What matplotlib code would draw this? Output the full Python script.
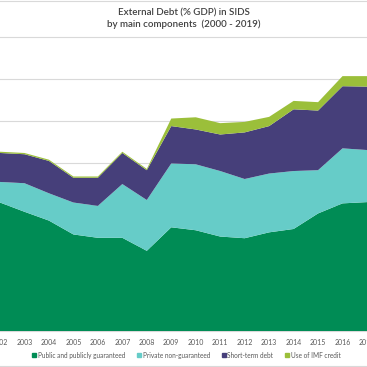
import matplotlib.pyplot as plt
from matplotlib.lines import Line2D

years = list(range(2002, 2018))

# % of GDP
public = [30.6, 28.4, 26.3, 23.0, 22.2, 22.2, 19.1, 24.7, 24.0, 22.5, 22.1, 23.5, 24.3, 28.0, 30.4, 30.7]
private = [4.9, 6.8, 6.5, 7.6, 7.6, 12.8, 12.1, 15.2, 15.7, 15.6, 14.1, 14.0, 13.8, 10.3, 13.1, 12.4]
short_term = [6.9, 6.9, 7.7, 5.9, 6.7, 7.4, 7.1, 8.9, 8.3, 8.7, 11.1, 11.3, 14.7, 14.2, 14.8, 15.1]
imf = [0.3, 0.3, 0.3, 0.3, 0.3, 0.3, 0.3, 1.8, 2.9, 2.7, 2.5, 2.2, 2.0, 2.0, 2.4, 2.5]

labels = ['Public and publicly guaranteed', 'Private non-guaranteed', 'Short-term debt', 'Use of IMF credit']
colors = ['#008c55', '#66ccc8', '#463f7a', '#9bbf3a']

plt.rcParams['font.family'] = ['Lato', 'DejaVu Sans']

fig = plt.figure(figsize=(3.67, 3.67), dpi=100)
ax = fig.add_axes([0, 0.098, 1, 0.801])

for v in range(0, 80, 10):
    ax.axhline(v, color='#d9d9d9', lw=0.8, zorder=0, clip_on=False)

ax.stackplot(years, public, private, short_term, imf, colors=colors, zorder=2)

ax.set_xlim(2002, 2017)
ax.set_ylim(0, 70)
ax.set_yticks([])
ax.set_xticks(years)
ax.set_xticklabels([str(y) for y in years], fontsize=5, color='#595959')
ax.tick_params(axis='x', length=0, pad=6)
for s in ax.spines.values():
    s.set_visible(False)

fig.text(0.5, 0.964, 'External Debt (% GDP) in SIDS', ha='center', va='center',
         fontsize=7, color='#404040', fontweight='semibold')
fig.text(0.5, 0.934, 'by main components  (2000 - 2019)', ha='center', va='center',
         fontsize=7, color='#404040', fontweight='semibold')

handles = [Line2D([], [], marker='s', ls='', color=c, markersize=3.2) for c in colors]
fig.legend(handles, labels, loc='center', bbox_to_anchor=(0.507, 0.032), ncol=4,
           frameon=False, fontsize=4.7, labelcolor='#595959', handletextpad=0.15,
           columnspacing=1.7, handlelength=0.8)

# chart border lines
fig.add_artist(Line2D([0, 1], [0.998, 0.998], color='#d9d9d9', lw=0.8))
fig.add_artist(Line2D([0, 1], [0.003, 0.003], color='#d9d9d9', lw=0.8))

fig.savefig('out.png', dpi=100)
